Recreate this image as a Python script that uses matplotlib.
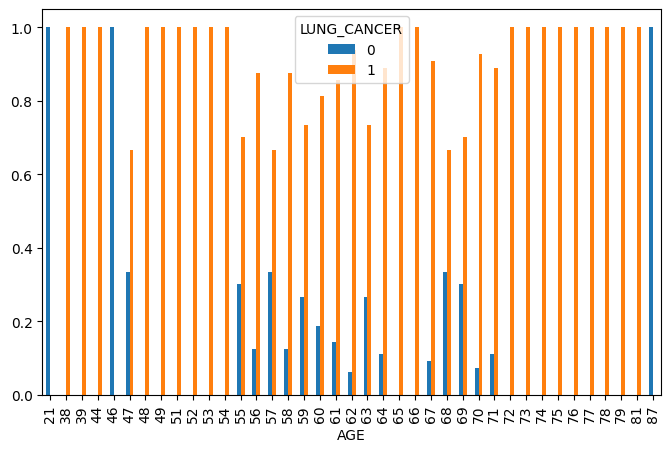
import matplotlib
matplotlib.use("Agg")
import matplotlib.pyplot as plt
import pandas as pd

ages = [21, 38, 39, 44, 46, 47, 48, 49, 51, 52, 53, 54, 55, 56, 57, 58, 59, 60,
        61, 62, 63, 64, 65, 66, 67, 68, 69, 70, 71, 72, 73, 74, 75, 76, 77, 78,
        79, 81, 87]
no_cancer = [1.0, 0, 0, 0, 1.0, 1/3, 0, 0, 0, 0, 0, 0, 0.3, 0.125, 1/3, 0.125,
             4/15, 0.1875, 1/7, 0.0625, 4/15, 1/9, 0, 0, 1/11, 1/3, 0.3, 1/14,
             1/9, 0, 0, 0, 0, 0, 0, 0, 0, 0, 1.0]
cancer = [1 - v for v in no_cancer]

df = pd.DataFrame({0: no_cancer, 1: cancer}, index=pd.Index(ages, name="AGE"))
df.columns.name = "LUNG_CANCER"

fig, ax = plt.subplots(figsize=(6.71, 4.52), dpi=100)
df.plot(kind="bar", ax=ax)
ax.legend(title="LUNG_CANCER", loc="upper center")
fig.subplots_adjust(left=0.063, right=0.985, top=0.978, bottom=0.125)
fig.savefig("out.png", dpi=100)
